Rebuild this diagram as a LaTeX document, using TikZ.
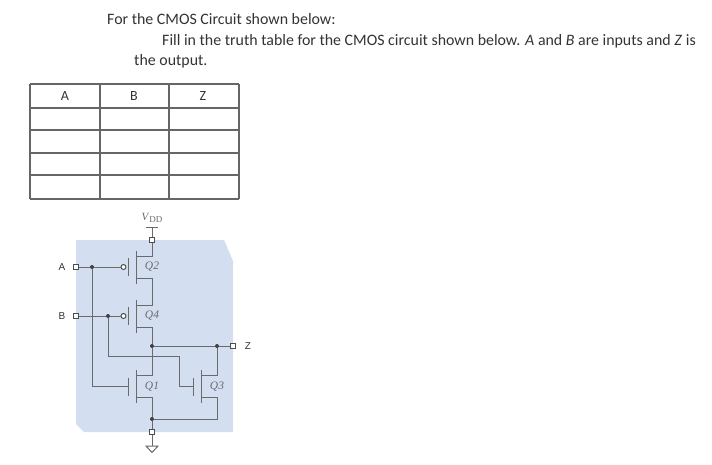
\documentclass[tikz,border=0pt]{standalone}
\usepackage{fontspec}
\setmainfont{Carlito}
\newfontfamily\labelfont{Liberation Sans}
\newfontfamily\devfont{Liberation Serif}
\usetikzlibrary{positioning}
\definecolor{panelblue}{HTML}{D3DFF1}
\definecolor{wiregray}{HTML}{6A6A6A}
\definecolor{textgray}{HTML}{333333}
\tikzset{
	wire/.style={draw=wiregray, line width=1pt},
	pin/.style={draw=black!70, fill=white, line width=0.9pt, minimum size=5.6pt, inner sep=0pt},
	junction/.style={circle, fill=black!75, minimum size=4pt, inner sep=0pt},
	bubble/.style={circle, draw=black!70, fill=white, line width=1pt, minimum size=5pt, inner sep=0pt},
	devlabel/.style={font=\devfont\itshape\fontsize{11.5}{12}\selectfont, text=wiregray},
	termlabel/.style={font=\labelfont\fontsize{10}{11}\selectfont, text=textgray},
	qtext/.style={font=\fontsize{15.9}{18}\selectfont, text=textgray, anchor=west, inner sep=0pt},
	grid line/.style={draw=black!60, line width=1.1pt},
	headtext/.style={font=\fontsize{14}{15}\selectfont, text=textgray}
}
\begin{document}
\begin{tikzpicture}[x=1pt, y=-1pt]
	\useasboundingbox (0,0) rectangle (712,464);
	\node[qtext] (line1) at (107,19) {For the CMOS Circuit shown below:};
	\node[qtext] (line2) at (162,41) {Fill in the truth table for the CMOS circuit shown below. \textit{A} and \textit{B} are inputs and \textit{Z} is};
	\node[qtext] (line3) at (134,61) {the output.};

	\foreach \y in {84,108,130,153,175,199}
		\draw[grid line] (30,\y) -- (239,\y);
	\foreach \x in {30,100,169,239}
		\draw[grid line] (\x,84) -- (\x,199);
	\node[headtext] (headA) at (65,96) {A};
	\node[headtext] (headB) at (134,96) {B};
	\node[headtext] (headZ) at (203,96) {Z};

	\fill[panelblue] (76,240) -- (224,240) -- (233,261) -- (233,432) -- (84,432) -- (76,424) -- cycle;

	\foreach \name/\x/\y in {q2/136/267, q4/136/316, q1/136/386.5, q3/201/386.5} {
		\coordinate (\name-gate) at (\x-8,\y);
		\coordinate (\name-gt) at (\x-8,\y-9);
		\coordinate (\name-gb) at (\x-8,\y+9);
		\coordinate (\name-ct) at (\x,\y-16.5);
		\coordinate (\name-cb) at (\x,\y+16.5);
		\coordinate (\name-s) at (\x,\y-11);
		\coordinate (\name-d) at (\x,\y+11);
		\draw[wire] (\name-gt) -- (\name-gb);
		\draw[wire] (\name-ct) -- (\name-cb);
	}
	\node[devlabel] (q2lab) at (152,267) {Q2};
	\node[devlabel] (q4lab) at (152,316) {Q4};
	\node[devlabel] (q1lab) at (152,387) {Q1};
	\node[devlabel] (q3lab) at (217,387) {Q3};

	\node[pin] (vdd) at (152,240) {};
	\node[pin] (a) at (76,267) {};
	\node[pin] (b) at (76,316) {};
	\node[pin] (z) at (233,346) {};
	\node[pin] (gnd) at (152,432) {};
	\node[termlabel] (alab) [left=4pt of a] {A};
	\node[termlabel] (blab) [left=4pt of b] {B};
	\node[termlabel] (zlab) [right=5pt of z] {Z};
	\node[font=\devfont\fontsize{11}{12}\selectfont, text=wiregray] (vddlab) at (152,218) {\textit{V}\raisebox{-1.5pt}{\fontsize{9}{10}\selectfont DD}};

	\node[junction] (adot) at (92,267) {};
	\node[junction] (bdot) at (108,316) {};
	\node[junction] (mid) at (152,346) {};
	\node[junction] (zdot) at (217,346) {};
	\node[junction] (low) at (152,419) {};

	\coordinate (rail) at (152,227);
	\coordinate (railL) at (146,227);
	\coordinate (railR) at (158,227);
	\coordinate (gndtop) at (152,446);
	\coordinate (gndL) at (146,446);
	\coordinate (gndR) at (158,446);
	\coordinate (gndtip) at (152,452.5);
	\coordinate (bturn) at (179,356);

	\draw[wire] (railL) -- (railR);
	\draw[wire] (rail) -- (vdd);
	\draw[wire] (vdd) |- (q2-s);
	\draw[wire] (q2-d) -| (152,305) -- (q4-s);
	\draw[wire] (q4-d) -| (mid);
	\draw[wire] (mid) -- (zdot);
	\draw[wire] (zdot) -- (z);
	\draw[wire] (mid) |- (q1-s);
	\draw[wire] (zdot) |- (q3-s);
	\draw[wire] (q1-d) -| (low);
	\draw[wire] (q3-d) -| (217,419) -- (low);
	\draw[wire] (low) -- (gnd);
	\draw[wire] (gnd) -- (gndtop);
	\draw[wire] (gndL) -- (gndR) -- (gndtip) -- cycle;

	\draw[wire] (a) -- (adot);
	\draw[wire] (b) -- (bdot);
	\node[bubble] (q2bub) at (123.5,267) {};
	\node[bubble] (q4bub) at (123.5,316) {};
	\draw[wire] (adot) -- (q2bub);
	\draw[wire] (bdot) -- (q4bub);
	\draw[wire] (adot) |- (q1-gate);
	\draw[wire] (bdot) |- (bturn) |- (q3-gate);
\end{tikzpicture}
\end{document}
